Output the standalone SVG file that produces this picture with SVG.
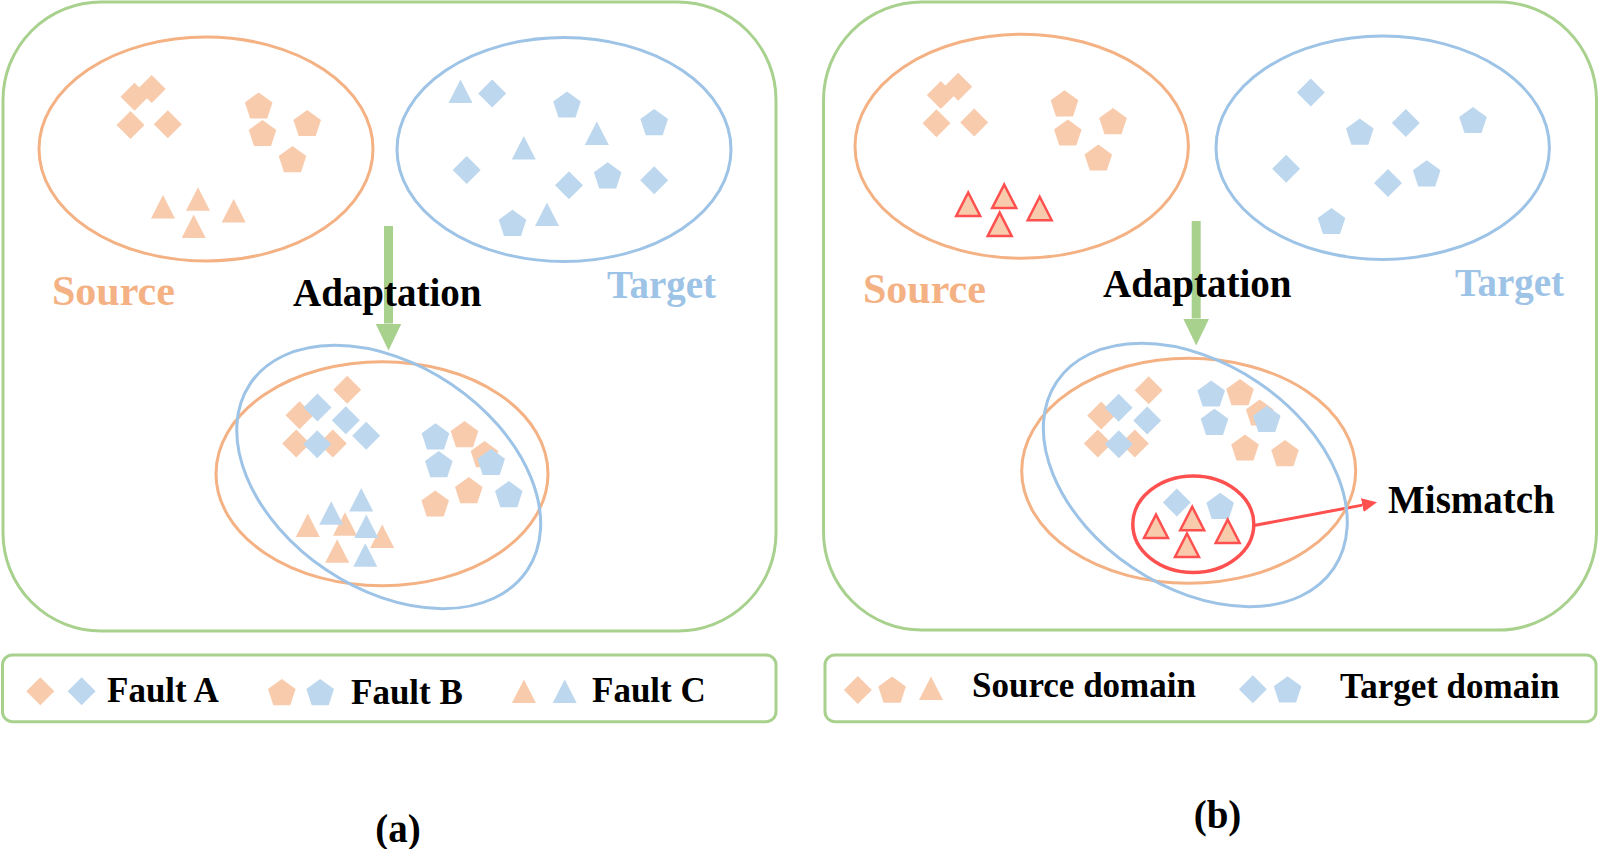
<svg xmlns="http://www.w3.org/2000/svg" xmlns:xlink="http://www.w3.org/1999/xlink" width="1600" height="849" viewBox="0 0 1600 849">
<style>
.frame{fill:none;stroke:#A9D18E;stroke-width:3}
.eo{fill:none;stroke:#F4B183;stroke-width:3}
.eb{fill:none;stroke:#9DC3E6;stroke-width:3}
.er{fill:none;stroke:#FF5050;stroke-width:3.5}
.o{fill:#F8CBAD}
.b{fill:#BDD7EE}
.r{fill:#F8CBAD;stroke:#FF5050;stroke-width:2.5}
.t{font-family:"Liberation Serif","Times New Roman",serif;font-weight:bold}
.src{fill:#F4B183;font-size:42px}
.tgt{fill:#9DC3E6;font-size:39px}
.blk{fill:#000;font-size:39px}
.leg{fill:#000;font-size:35px}
.green{stroke:#A9D18E;stroke-width:9;fill:none}
.red{stroke:#FF5050;stroke-width:3;fill:none}
</style>
<defs>
<path id="dia" d="M0,-14 L14,0 L0,14 L-14,0 Z"/>
<path id="pen" d="M0,-13.1 L13.8,-3.1 L8.5,13.1 L-8.5,13.1 L-13.8,-3.1 Z"/>
<path id="tri" d="M0,-11.7 L12,11.7 L-12,11.7 Z"/>
<marker id="ga" markerUnits="userSpaceOnUse" markerWidth="27" markerHeight="26" refX="0" refY="13" orient="auto" viewBox="0 0 27 26">
<path d="M0,0 L27,13 L0,26 Z" fill="#A9D18E"/>
</marker>
<marker id="ra" markerUnits="userSpaceOnUse" markerWidth="15" markerHeight="14" refX="0" refY="7" orient="auto" viewBox="0 0 15 14">
<path d="M0,0 L15,7 L0,14 Z" fill="#FF5050"/>
</marker>
</defs>

<g id="panel-a">
<rect class="frame" x="3" y="2" width="773" height="629" rx="98"/>
</g>
<g id="panel-b">
<rect class="frame" x="823.5" y="2" width="773" height="628" rx="98"/>
</g>

<g id="connectors">
<line class="green" x1="388.5" y1="226" x2="388.5" y2="323.5" marker-end="url(#ga)"/>
<line class="green" x1="1196.2" y1="221" x2="1196.2" y2="318.5" marker-end="url(#ga)"/>
<line class="red" x1="1254" y1="525.5" x2="1362.3" y2="505.1" marker-end="url(#ra)"/>
</g>

<g id="a-source">
<ellipse class="eo" cx="206" cy="149" rx="167" ry="112"/>
<use href="#dia" class="o" x="151.7" y="89"/>
<use href="#dia" class="o" x="134.5" y="96.7"/>
<use href="#dia" class="o" x="130.5" y="125"/>
<use href="#dia" class="o" x="167.8" y="124.3"/>
<use href="#pen" class="o" x="258.7" y="105.5"/>
<use href="#pen" class="o" x="262.5" y="133"/>
<use href="#pen" class="o" x="307.2" y="123"/>
<use href="#pen" class="o" x="292.5" y="159.2"/>
<use href="#tri" class="o" x="163" y="206.7"/>
<use href="#tri" class="o" x="198" y="199"/>
<use href="#tri" class="o" x="193.7" y="226.3"/>
<use href="#tri" class="o" x="233.7" y="210.8"/>
<text class="t src" x="52" y="305">Source</text>
</g>

<g id="a-target">
<ellipse class="eb" cx="564" cy="149.5" rx="167" ry="112"/>
<use href="#tri" class="b" x="460.5" y="91.3"/>
<use href="#tri" class="b" x="523.8" y="147.7"/>
<use href="#tri" class="b" x="596.8" y="133.3"/>
<use href="#tri" class="b" x="547" y="214.2"/>
<use href="#dia" class="b" x="492.2" y="93.5"/>
<use href="#dia" class="b" x="466.7" y="170"/>
<use href="#dia" class="b" x="569" y="185.3"/>
<use href="#dia" class="b" x="654.2" y="180.3"/>
<use href="#pen" class="b" x="567" y="104.5"/>
<use href="#pen" class="b" x="654.2" y="122.2"/>
<use href="#pen" class="b" x="607.7" y="175.3"/>
<use href="#pen" class="b" x="512.5" y="222.8"/>
<text class="t tgt" x="607" y="298">Target</text>
</g>

<g id="a-adapted">
<ellipse class="eo" cx="382" cy="473.7" rx="166" ry="112"/>
<ellipse class="eb" cx="388.7" cy="477" rx="167" ry="112" transform="rotate(34 388.7 477)"/>
<use href="#dia" class="o" x="347.2" y="389.7"/>
<use href="#dia" class="o" x="299.5" y="415.3"/>
<use href="#dia" class="o" x="296.2" y="443.5"/>
<use href="#dia" class="o" x="332.8" y="443.5"/>
<use href="#dia" class="b" x="317.5" y="407.5"/>
<use href="#dia" class="b" x="345.8" y="420.2"/>
<use href="#dia" class="b" x="366.2" y="435.8"/>
<use href="#dia" class="b" x="317.2" y="444.2"/>
<use href="#pen" class="o" x="464.5" y="434.2"/>
<use href="#pen" class="o" x="484.5" y="454.2"/>
<use href="#pen" class="o" x="468.8" y="490.2"/>
<use href="#pen" class="o" x="435.2" y="503.5"/>
<use href="#pen" class="b" x="435.5" y="436.3"/>
<use href="#pen" class="b" x="438.8" y="464.2"/>
<use href="#pen" class="b" x="491.2" y="461.8"/>
<use href="#pen" class="b" x="508.8" y="494.2"/>
<use href="#tri" class="o" x="307.8" y="525.3"/>
<use href="#tri" class="o" x="345" y="524"/>
<use href="#tri" class="o" x="382.2" y="536.3"/>
<use href="#tri" class="o" x="337.2" y="551"/>
<use href="#tri" class="b" x="361.2" y="499.7"/>
<use href="#tri" class="b" x="331.2" y="513"/>
<use href="#tri" class="b" x="366.3" y="526.3"/>
<use href="#tri" class="b" x="365.3" y="555"/>
</g>

<g id="b-source">
<ellipse class="eo" cx="1021.7" cy="146.2" rx="166.7" ry="112"/>
<use href="#dia" class="o" x="958.2" y="86.7"/>
<use href="#dia" class="o" x="940.8" y="95"/>
<use href="#dia" class="o" x="936.5" y="123.3"/>
<use href="#dia" class="o" x="974.2" y="122.5"/>
<use href="#pen" class="o" x="1064.5" y="103.3"/>
<use href="#pen" class="o" x="1067.8" y="132.5"/>
<use href="#pen" class="o" x="1113" y="121.2"/>
<use href="#pen" class="o" x="1098.3" y="157.5"/>
<use href="#tri" class="r" x="968.2" y="204.2"/>
<use href="#tri" class="r" x="1004.2" y="196.3"/>
<use href="#tri" class="r" x="999.7" y="224.3"/>
<use href="#tri" class="r" x="1039.7" y="208.5"/>
<text class="t src" x="863" y="303">Source</text>
</g>

<g id="b-target">
<ellipse class="eb" cx="1382.7" cy="147.7" rx="166.7" ry="111.7"/>
<use href="#dia" class="b" x="1310.8" y="92.5"/>
<use href="#dia" class="b" x="1405.8" y="123"/>
<use href="#dia" class="b" x="1286.2" y="168.7"/>
<use href="#dia" class="b" x="1388" y="183"/>
<use href="#pen" class="b" x="1359.8" y="131.7"/>
<use href="#pen" class="b" x="1473" y="120"/>
<use href="#pen" class="b" x="1426.7" y="173.3"/>
<use href="#pen" class="b" x="1331.5" y="221"/>
<text class="t tgt" x="1455" y="296">Target</text>
</g>

<g id="b-adapted">
<ellipse class="eo" cx="1188.7" cy="470.8" rx="167" ry="112.5"/>
<ellipse class="eb" cx="1195.3" cy="475" rx="167" ry="112" transform="rotate(34 1195.3 475)"/>
<use href="#dia" class="o" x="1148.7" y="390.3"/>
<use href="#dia" class="o" x="1101.2" y="415.5"/>
<use href="#dia" class="o" x="1097.8" y="443.5"/>
<use href="#dia" class="o" x="1134.8" y="443.5"/>
<use href="#dia" class="b" x="1118.7" y="407.8"/>
<use href="#dia" class="b" x="1147.2" y="420.5"/>
<use href="#dia" class="b" x="1118.8" y="444.2"/>
<use href="#pen" class="o" x="1240" y="392.2"/>
<use href="#pen" class="o" x="1259.7" y="412.5"/>
<use href="#pen" class="o" x="1245" y="447.5"/>
<use href="#pen" class="o" x="1285" y="453.2"/>
<use href="#pen" class="b" x="1211.2" y="393.5"/>
<use href="#pen" class="b" x="1214.5" y="421.8"/>
<use href="#pen" class="b" x="1266.8" y="418.8"/>
</g>

<g id="b-mismatch">
<ellipse class="er" cx="1193.3" cy="524.3" rx="60.5" ry="48.3"/>
<use href="#dia" class="b" x="1176.8" y="502.5"/>
<use href="#pen" class="b" x="1220.2" y="505.8"/>
<use href="#tri" class="r" x="1156" y="526.3"/>
<use href="#tri" class="r" x="1192.2" y="518.5"/>
<use href="#tri" class="r" x="1187" y="545.2"/>
<use href="#tri" class="r" x="1227.7" y="531.3"/>
</g>

<g id="label-mismatch">
<text class="t blk" x="1388" y="513">Mismatch</text>
</g>
<g id="label-adapt-a">
<text class="t blk" x="293" y="306">Adaptation</text>
</g>
<g id="label-adapt-b">
<text class="t blk" x="1103" y="297">Adaptation</text>
</g>

<g id="legend-a">
<rect class="frame" x="2.5" y="655" width="773.5" height="66.7" rx="10"/>
<use href="#dia" class="o" x="40.3" y="691.2"/>
<use href="#dia" class="b" x="81.6" y="691.2"/>
<text class="t leg" x="107" y="702">Fault A</text>
<use href="#pen" class="o" x="281.8" y="692.2"/>
<use href="#pen" class="b" x="320.2" y="692.2"/>
<text class="t leg" x="351" y="704">Fault B</text>
<use href="#tri" class="o" x="523.9" y="691.3"/>
<use href="#tri" class="b" x="564.7" y="691.3"/>
<text class="t leg" x="592" y="702">Fault C</text>
</g>

<g id="legend-b">
<rect class="frame" x="825" y="655" width="771" height="66.7" rx="10"/>
<use href="#dia" class="o" x="857.8" y="690"/>
<use href="#pen" class="o" x="892.1" y="689.7"/>
<use href="#tri" class="o" x="931" y="688.3"/>
<text class="t leg" x="972" y="697">Source domain</text>
<use href="#dia" class="b" x="1252.9" y="689.3"/>
<use href="#pen" class="b" x="1287.6" y="689.3"/>
<text class="t leg" x="1340" y="698">Target domain</text>
</g>

<g id="captions">
<text class="t blk" x="398" y="842" text-anchor="middle">(a)</text>
<text class="t blk" x="1217.5" y="828" text-anchor="middle">(b)</text>
</g>
</svg>
